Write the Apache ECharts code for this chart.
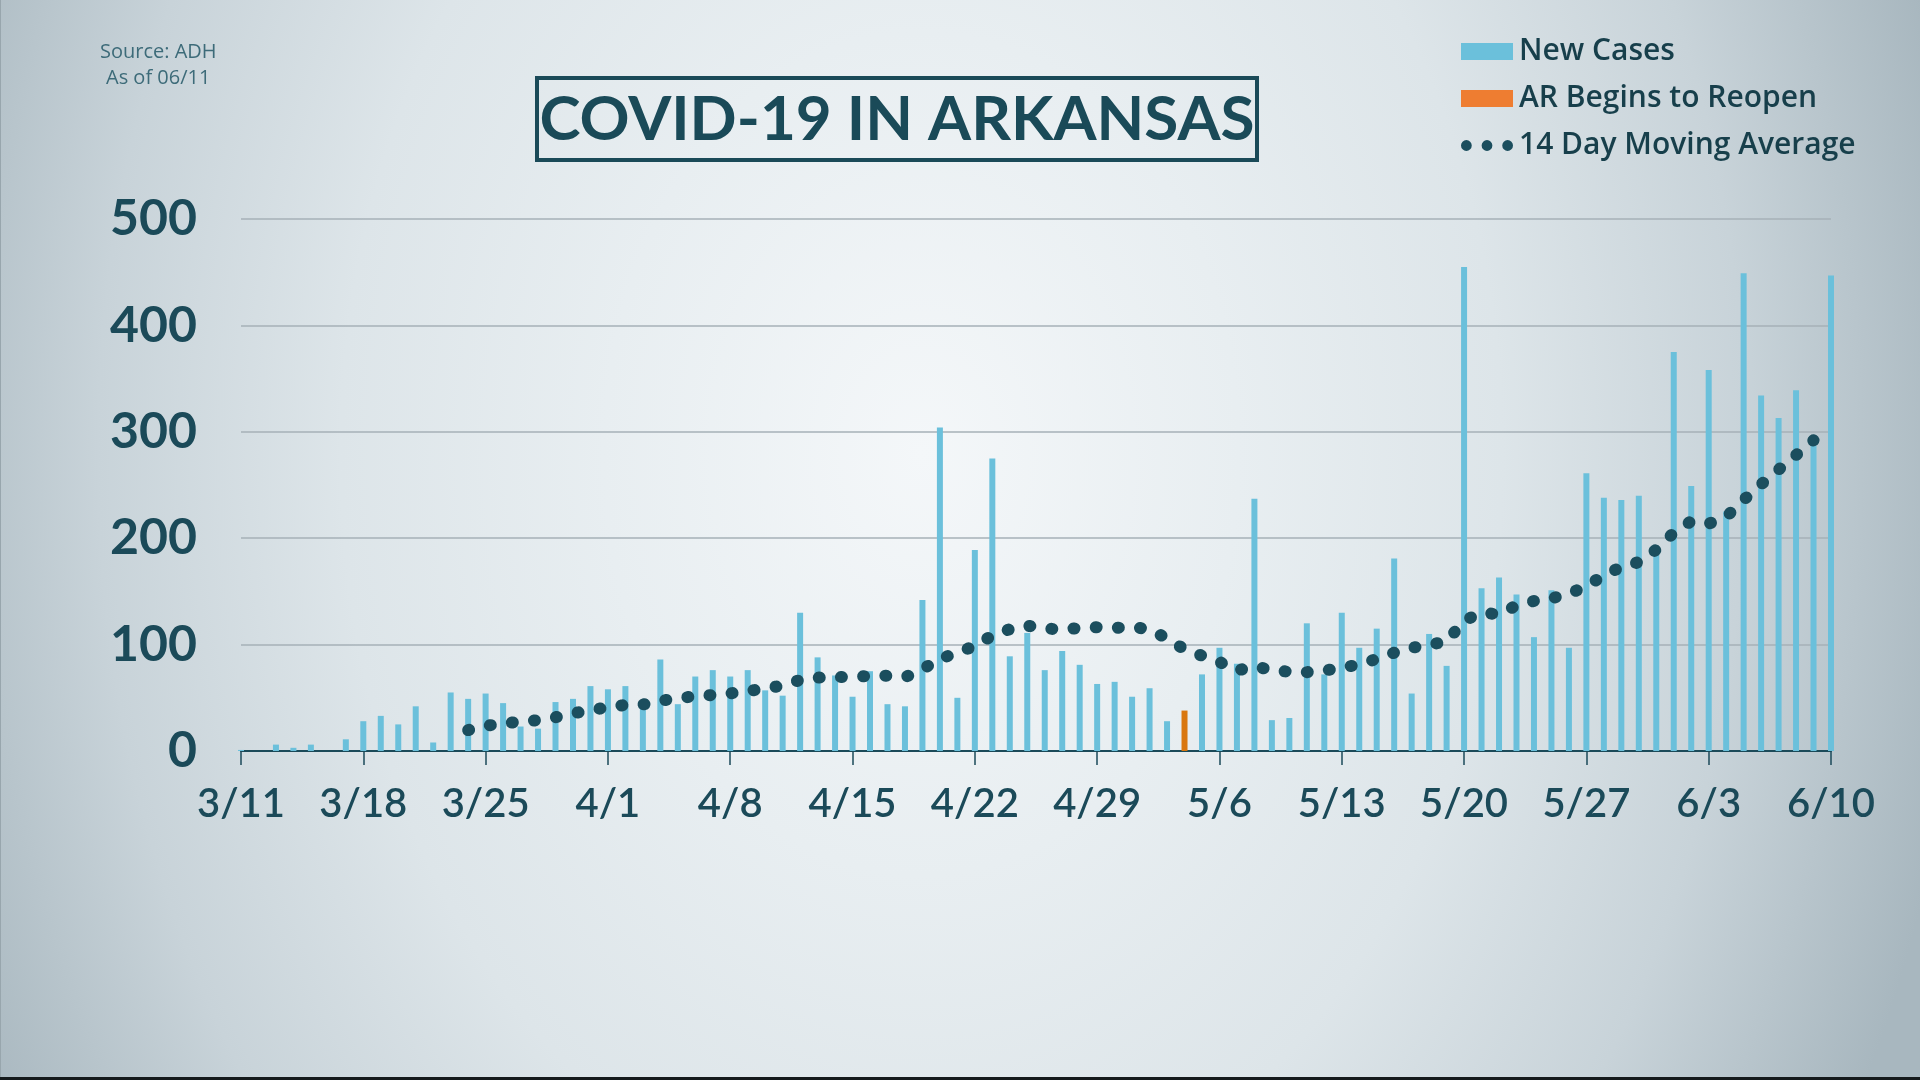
<!DOCTYPE html>
<html>
<head>
<meta charset="utf-8">
<script src="https://cdn.jsdelivr.net/npm/echarts@6/dist/echarts.min.js"></script>
<style>
html,body{margin:0;padding:0;width:1920px;height:1080px;overflow:hidden;}
#wrap{position:relative;width:1920px;height:1080px;
 background:radial-gradient(ellipse 55% 130% at 48% 42%, #f4f7f9 0%, #e8eef1 30%, #dde5e9 55%, #c8d3d9 78%, #a8b7bf 100%);}
#chart{position:absolute;left:0;top:0;width:1920px;height:1080px;}
#bline{position:absolute;left:0;bottom:0;width:1920px;height:3px;background:#151a1c;}
#lline{position:absolute;left:0;top:0;width:1px;height:1080px;background:#98a6ad;}
</style>
</head>
<body>
<div id="wrap"><div id="chart"></div><div id="lline"></div><div id="bline"></div></div>
<script>
const dates = ["3/11","3/12","3/13","3/14","3/15","3/16","3/17","3/18","3/19","3/20","3/21","3/22","3/23","3/24","3/25","3/26","3/27","3/28","3/29","3/30","3/31",
"4/1","4/2","4/3","4/4","4/5","4/6","4/7","4/8","4/9","4/10","4/11","4/12","4/13","4/14","4/15","4/16","4/17","4/18","4/19","4/20","4/21","4/22","4/23","4/24","4/25","4/26","4/27","4/28","4/29","4/30",
"5/1","5/2","5/3","5/4","5/5","5/6","5/7","5/8","5/9","5/10","5/11","5/12","5/13","5/14","5/15","5/16","5/17","5/18","5/19","5/20","5/21","5/22","5/23","5/24","5/25","5/26","5/27","5/28","5/29","5/30","5/31",
"6/1","6/2","6/3","6/4","6/5","6/6","6/7","6/8","6/9","6/10"];

const newCases = [1,0,6,3,6,0,11,28,33,25,42,8,55,49,54,45,23,21,46,49,61,58,61,43,86,44,70,76,70,76,57,52,130,88,71,51,75,44,42,142,304,50,189,275,89,111,76,94,81,63,65,51,59,28,null,72,97,82,237,29,31,120,72,130,97,115,181,54,110,80,455,153,163,147,107,151,97,261,238,236,240,190,375,249,358,225,449,334,313,339,287,447];

const reopen = [null,null,null,null,null,null,null,null,null,null,null,null,null,null,null,null,null,null,null,null,null,null,null,null,null,null,null,null,null,null,null,null,null,null,null,null,null,null,null,null,null,null,null,null,null,null,null,null,null,null,null,null,null,null,38,null,null,null,null,null,null,null,null,null,null,null,null,null,null,null,null,null,null,null,null,null,null,null,null,null,null,null,null,null,null,null,null,null,null,null,null,null];

const movingAvg = [null,null,null,null,null,null,null,null,null,null,null,null,null,
19.7,23.6,25.9,27.5,29.0,31.7,35.4,38.4,41.1,43.3,43.7,47.1,49.7,51.4,52.6,54.1,56.4,58.6,61.6,66.8,69.0,69.4,69.8,70.5,70.7,69.4,76.7,86.8,92.1,98.9,108.5,114.5,117.8,114.9,114.6,115.5,116.4,115.7,116.7,114.2,105.9,95.5,89.6,83.8,75.5,79.7,76.0,74.5,74.1,75.5,78.5,81.1,86.6,92.4,96.9,100.0,102.8,122.6,129.9,128.5,136.8,141.0,143.5,147.6,155.1,164.9,173.1,177.5,189.2,205.2,216.0,213.6,220.0,236.0,250.6,264.4,278.1,292.0,null];

const yTicks = [0,100,200,300,400,500];
const titleText = "COVID-19 IN ARKANSAS";
const sourceLines = ["Source: ADH", "As of 06/11"];
const legendNames = ["New Cases", "AR Begins to Reopen", "14 Day Moving Average"];

const teal = '#1b4a59';
const chart = echarts.init(document.getElementById('chart'), null, {renderer:'canvas'});
chart.setOption({
  animation:false,
  backgroundColor:'transparent',
  grid:{left:241, right:89, top:219, bottom:329, containLabel:false},
  legend:{
    orient:'vertical', left:1456, top:31, itemWidth:52, itemHeight:17, itemGap:16,
    selectedMode:false,
    textStyle:{fontFamily:'Open Sans', fontWeight:600, fontSize:30, color:'#173f4b', lineHeight:31, padding:[0,0,0,1]},
    data:[
      {name:legendNames[0], icon:'rect', itemStyle:{color:'#6bc0db', borderWidth:0}},
      {name:legendNames[1], icon:'rect', itemStyle:{color:'#ee7d31', borderWidth:0}},
      {name:legendNames[2], icon:'path://M0 6A6 6 0 1 0 12 6A6 6 0 1 0 0 6ZM23 6A6 6 0 1 0 35 6A6 6 0 1 0 23 6ZM46 6A6 6 0 1 0 58 6A6 6 0 1 0 46 6Z', itemStyle:{color:'#1b4e5e', borderWidth:0}}
    ]
  },
  xAxis:{
    type:'category', data:dates, boundaryGap:false,
    axisLine:{show:true, lineStyle:{color:teal, width:2}},
    axisTick:{show:true, interval:6, length:14, lineStyle:{color:teal, width:1.5}},
    axisLabel:{interval:6, fontFamily:'Lato', fontWeight:600, fontSize:40, color:teal, margin:33},
    splitLine:{show:false}
  },
  yAxis:{
    type:'value', min:yTicks[0], max:yTicks[yTicks.length-1], interval:100,
    axisLine:{show:false}, axisTick:{show:false},
    axisLabel:{fontFamily:'Lato', fontWeight:'bold', fontSize:50, color:teal, margin:44},
    splitLine:{lineStyle:{color:'#a6b1b7', width:1.5}}
  },
  series:[
    {name:legendNames[0], type:'bar', data:newCases, barWidth:6, barGap:'-100%',
     itemStyle:{color:'#6bc0db'}, silent:true, z:2},
    {name:legendNames[1], type:'bar', data:reopen, barWidth:6, barGap:'-100%',
     itemStyle:{color:'#d9770f'}, silent:true, z:2},
    {name:legendNames[2], type:'line', data:movingAvg, symbol:'none', connectNulls:false, silent:true, z:5,
     itemStyle:{color:'#1b4e5e'},
     lineStyle:{color:'#1b4e5e', width:12, type:[1,21.2], cap:'round', join:'round'}}
  ],
  graphic:[
    {type:'rect', shape:{x:537, y:78, width:720, height:82}, style:{fill:'none', stroke:'#1a4a58', lineWidth:4}, silent:true},
    {type:'text', x:897, y:120, style:{text:titleText, font:'bold 62px Lato', fill:'#1a4a58', align:'center', verticalAlign:'middle'}, silent:true},
    {type:'text', x:100, y:52, style:{text:sourceLines[0], font:'20px "Open Sans"', fill:'#3d6b79', align:'left', verticalAlign:'middle'}, silent:true},
    {type:'text', x:106, y:78, style:{text:sourceLines[1], font:'20px "Open Sans"', fill:'#3d6b79', align:'left', verticalAlign:'middle'}, silent:true}
  ]
});
</script>
</body>
</html>
